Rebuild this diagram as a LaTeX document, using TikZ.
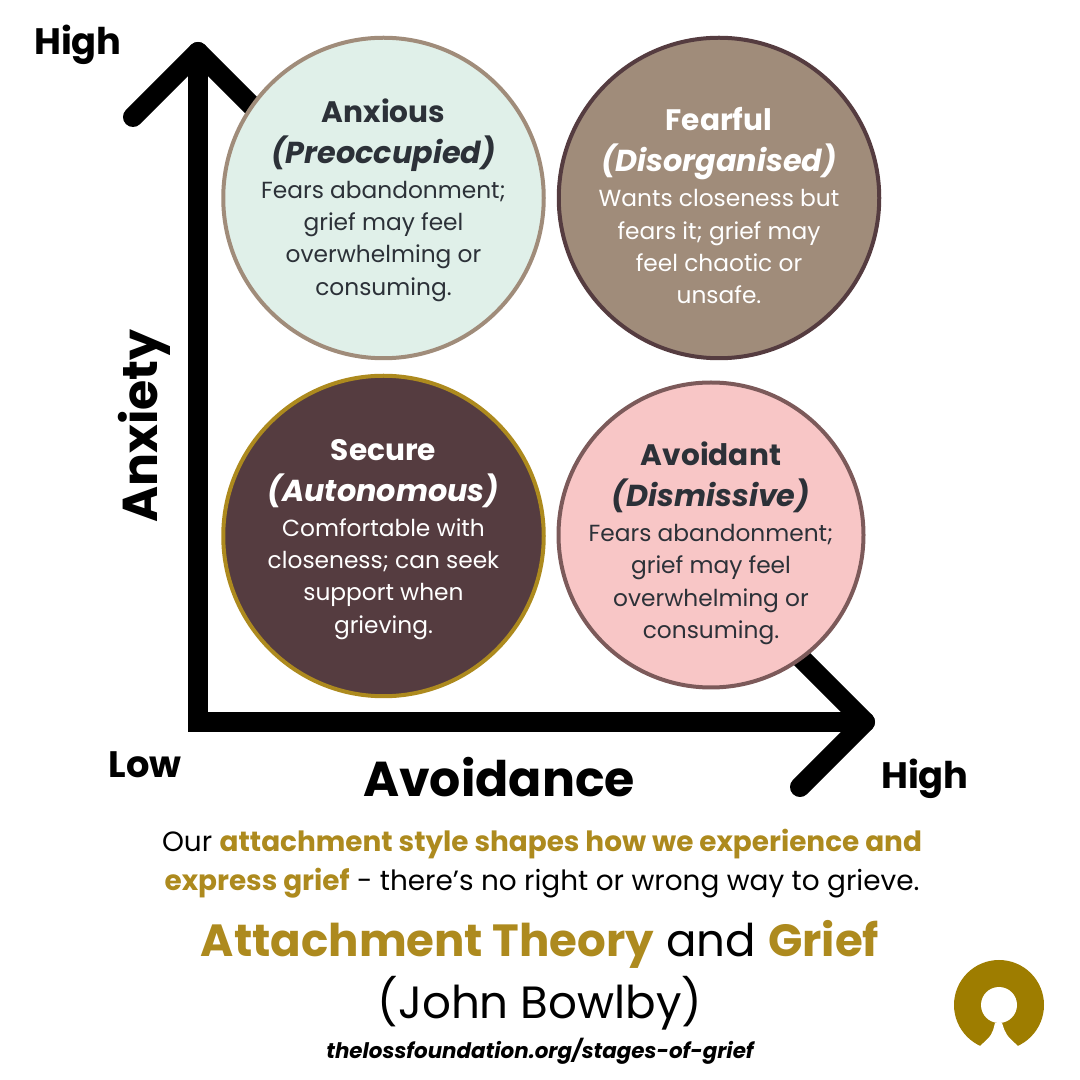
\documentclass[tikz,border=0pt]{standalone}
\usepackage{fontspec}
\setmainfont{Poppins}
\definecolor{gold}{HTML}{AD8A1E}
\definecolor{logogold}{HTML}{9E7D00}
\definecolor{ink}{HTML}{2C3138}
\definecolor{mint}{HTML}{E0F0E9}
\definecolor{taupe}{HTML}{A08C7A}
\definecolor{plum}{HTML}{553C40}
\definecolor{blush}{HTML}{F8C6C6}
\definecolor{rosewood}{HTML}{7C5A5A}
\newcommand{\stylename}[2]{{\fontsize{29.6}{32.4}\selectfont\bfseries #1}\\[8.5pt]{\fontsize{30.3}{32.4}\selectfont\bfseries\itshape (#2)}\\[2.5pt]}
\tikzset{
  axisline/.style={line width=20pt, line cap=round, line join=round},
  stylecircle/.style={circle, line width=4pt, minimum size=#1, inner sep=0pt},
  styletext/.style={align=center, inner sep=0pt, font=\fontsize{23.3}{32.4}\selectfont},
  axislabel/.style={inner sep=0pt, font=\fontsize{36.8}{40}\selectfont\bfseries},
  axistitle/.style={inner sep=0pt, font=\fontsize{49}{52}\selectfont\bfseries}
}
\begin{document}
\begin{tikzpicture}[x=1pt, y=1pt]

    \useasboundingbox (0,0) rectangle (1080,1080);

    % Puntos de los ejes
    \coordinate (origin) at (198,358);
    \coordinate (ytip) at (198,1028);
    \coordinate (yleft) at (133,963);
    \coordinate (yright) at (263,963);
    \coordinate (xtip) at (865,358);
    \coordinate (xup) at (800,423);
    \coordinate (xdown) at (800,293);

    % Ejes con sus puntas
    \draw[axisline, line join=miter] (ytip) -- (origin) -- (xtip);
    \draw[axisline] (yleft) -- (ytip) -- (yright);
    \draw[axisline] (xup) -- (xtip) -- (xdown);

    % Circulos
    \node (anxious) [stylecircle=320.5pt, draw=taupe, fill=mint] at (383.5,882) {};
    \node (fearful) [right of=anxious, node distance=335.5pt, stylecircle=320.5pt, draw=plum, fill=taupe] {};
    \node (secure) [below of=anxious, node distance=338pt, stylecircle=320.5pt, draw=gold, fill=plum] {};
    \node (avoidant) [right of=secure, node distance=327.5pt, yshift=1pt, stylecircle=305pt, draw=rosewood, fill=blush] {};

    % Textos de los circulos
    \node (anxioustext) [styletext, text=ink, yshift=-2pt] at (anxious)
    {\stylename{Anxious}{Preoccupied}Fears abandonment;\\grief may feel\\overwhelming or\\consuming.};
    \node (fearfultext) [styletext, text=white, yshift=-8pt] at (fearful)
    {\stylename{Fearful}{Disorganised}Wants closeness but\\fears it; grief may\\feel chaotic or\\unsafe.};
    \node (securetext) [styletext, text=white, yshift=-3.5pt] at (secure)
    {\stylename{Secure}{Autonomous}Comfortable with\\closeness; can seek\\support when\\grieving.};
    \node (avoidanttext) [styletext, text=ink, yshift=-8.5pt] at (avoidant)
    {\stylename{Avoidant}{Dismissive}Fears abandonment;\\grief may feel\\overwhelming or\\consuming.};

    % Etiquetas de los ejes
    \node (yhigh) [axislabel] at (78,1035) {High};
    \node (xlow) [axislabel] at (145,315) {Low};
    \node (xhigh) [axislabel] at (925,301) {High};
    \node (xtitle) [axistitle] at (499,303) {Avoidance};
    \node (ytitle) [axistitle, rotate=90] at (144,654) {Anxiety};

    % Textos inferiores
    \node (intro) [align=center, inner sep=0pt, font=\fontsize{27.9}{39}\selectfont] at (542,216)
    {Our \textcolor{gold}{\textbf{attachment style shapes how we experience and}}\\
    \textcolor{gold}{\textbf{express grief}} - there’s no right or wrong way to grieve.};
    \node (title) [inner sep=0pt, font=\fontsize{45.1}{50}\selectfont] at (540,136)
    {\textcolor{gold}{\textbf{Attachment Theory}} and \textcolor{gold}{\textbf{Grief}}};
    \node (author) [inner sep=0pt, font=\fontsize{45.2}{50}\selectfont] at (540,77) {(John Bowlby)};
    \node (website) [inner sep=0pt, font=\fontsize{21.4}{24}\selectfont\bfseries\itshape] at (540,29)
    {thelossfoundation.org/stages-of-grief};

    % Logo
    \fill[logogold] (999,75) circle (45);
    \fill[white] (995,57) .. controls (992,45) .. (980,34) -- (980,25) -- (1018,25) -- (1018,34) .. controls (1006,45) .. (1002,57) -- cycle;
    \fill[white] (999,75) circle (18);

\end{tikzpicture}
\end{document}
